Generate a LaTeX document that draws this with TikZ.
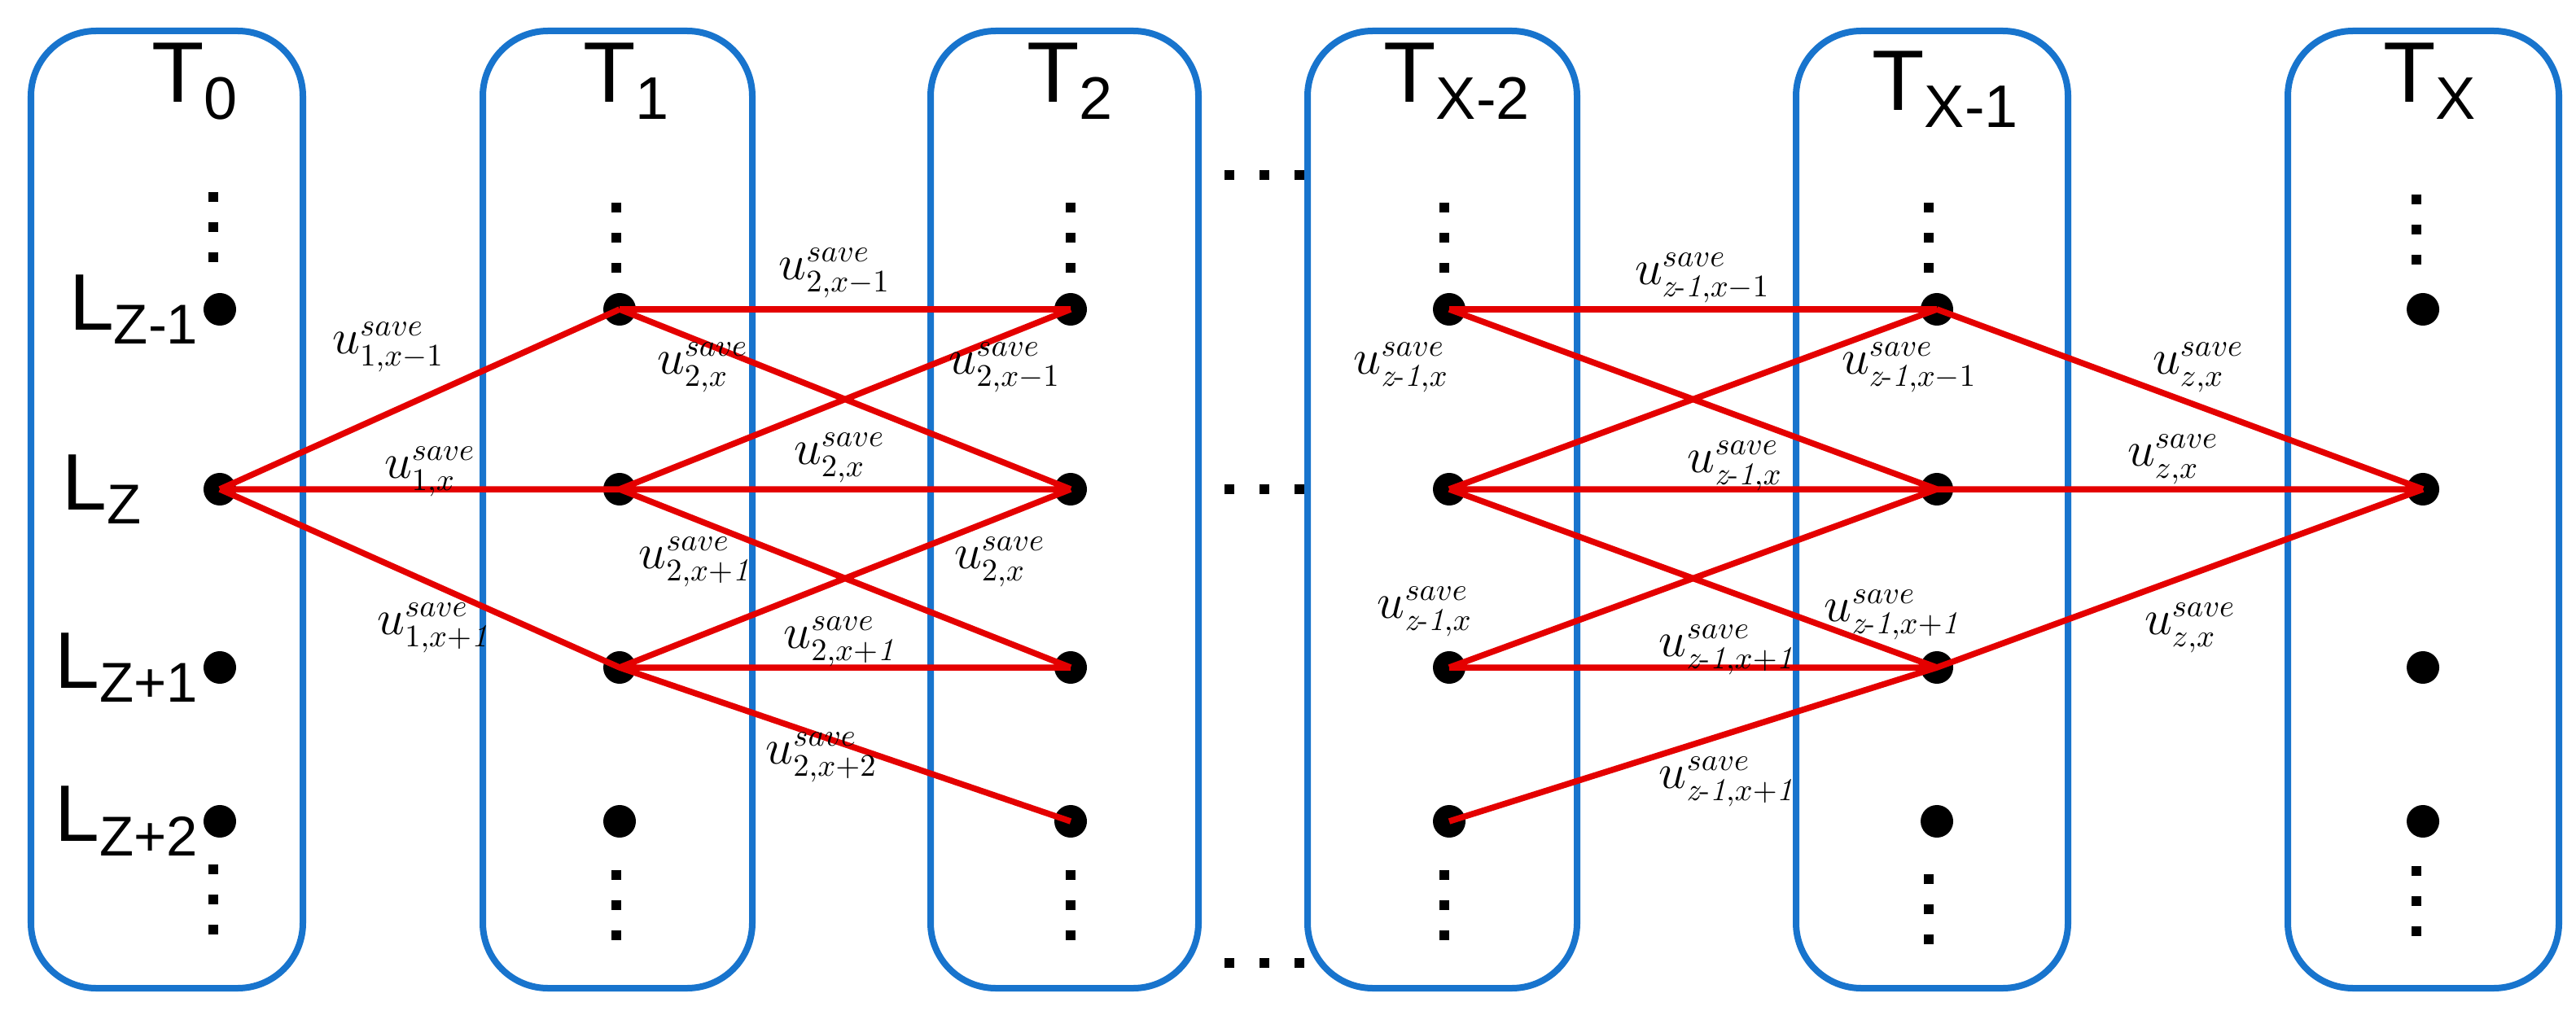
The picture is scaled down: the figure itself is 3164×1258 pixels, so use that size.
\documentclass[tikz,border=0pt]{standalone}
\usepackage{amsmath}
\usepackage{fontspec}
\setsansfont{Liberation Sans}
\begin{document}
\begin{tikzpicture}[x=0.01cm, y=-0.01cm,
    box/.style = {draw = boxblue, line width = 0.08cm, rounded corners = 0.8cm},
    pt/.style = {circle, fill, inner sep = 0pt, minimum size = 0.4cm},
    sq/.style = {fill, inner sep = 0pt, minimum size = 0.12cm},
    edge/.style = {draw = edgered, line width = 0.075cm},
    ttl/.style = {font = \sffamily\fontsize{30}{32}\selectfont},
    lvl/.style = {font = \sffamily\fontsize{28}{30}\selectfont, anchor = east, inner sep = 1pt},
    lab/.style = {font = \fontsize{16}{18}\selectfont}]
  \definecolor{boxblue}{RGB}{24,116,205}
  \definecolor{edgered}{RGB}{228,0,0}
  \useasboundingbox (0,0) rectangle (3164,1258);

  % columns
  \foreach \n/\l/\r in {c0/38/372, c1/593/924, c2/1143/1472,
                        c3/1606/1937, c4/2206/2540, c5/2810/3143}
    \draw [box] (\l,38) rectangle (\r,1214);

  \node [ttl] (t0) at (240,100) {T\textsubscript{0}};
  \node [ttl] (t1) at (770,100) {T\textsubscript{1}};
  \node [ttl] (t2) at (1315,100) {T\textsubscript{2}};
  \node [ttl] (t3) at (1790,100) {T\textsubscript{X-2}};
  \node [ttl] (t4) at (2390,110) {T\textsubscript{X-1}};
  \node [ttl] (t5) at (2985,100) {T\textsubscript{X}};

  % points
  \foreach \c/\x in {0/270, 1/761, 2/1315, 3/1780, 4/2379, 5/2976}
    \foreach \r/\y in {1/380, 2/601, 3/820, 4/1009}
      \node [pt] (p\c\r) at (\x,\y) {};

  \node [lvl] (l1) at (p01.west) {L\textsubscript{Z-1}};
  \node [lvl, xshift = -0.7cm] (l2) at (p02.west) {L\textsubscript{Z}};
  \node [lvl] (l3) at (p03.west) {L\textsubscript{Z+1}};
  \node [lvl] (l4) at (p04.west) {L\textsubscript{Z+2}};

  % vertical ellipses
  \foreach \x/\t/\b in {262/242/1068, 757/255/1075, 1315/255/1075,
                        1774/255/1075, 2369/255/1080, 2968/245/1070}
    \foreach \d in {0,37,74} {
      \node [sq] at (\x,\t+\d) {};
      \node [sq] at (\x,\b+\d) {};
    }

  % horizontal ellipses
  \foreach \y in {215, 601, 1183}
    \foreach \x in {1510,1553,1596}
      \node [sq] at (\x,\y) {};

  % edges
  \draw [edge] (p02.center) -- (p11.center)
               (p02.center) -- (p12.center)
               (p02.center) -- (p13.center)
               (p11.center) -- (p21.center)
               (p11.center) -- (p22.center)
               (p12.center) -- (p21.center)
               (p12.center) -- (p22.center)
               (p12.center) -- (p23.center)
               (p13.center) -- (p22.center)
               (p13.center) -- (p23.center)
               (p13.center) -- (p24.center)
               (p31.center) -- (p41.center)
               (p31.center) -- (p42.center)
               (p32.center) -- (p41.center)
               (p32.center) -- (p42.center)
               (p32.center) -- (p43.center)
               (p33.center) -- (p42.center)
               (p33.center) -- (p43.center)
               (p34.center) -- (p43.center)
               (p41.center) -- (p52.center)
               (p42.center) -- (p52.center)
               (p43.center) -- (p52.center);

  % edge labels
  \node [lab] (a1) at (477,426) {$u^{save}_{1,x-1}$};
  \node [lab] (a2) at (528,579) {$u^{save}_{1,x}$};
  \node [lab] (a3) at (532,771) {$u^{save}_{1,x+\mathit{1}}$};
  \node [lab] (b1) at (1025,335) {$u^{save}_{2,x-1}$};
  \node [lab] (b2) at (863,451) {$u^{save}_{2,x}$};
  \node [lab] (b3) at (1234,451) {$u^{save}_{2,x-1}$};
  \node [lab] (b4) at (1031,562) {$u^{save}_{2,x}$};
  \node [lab] (b5) at (853,690) {$u^{save}_{2,x+\mathit{1}}$};
  \node [lab] (b6) at (1228,690) {$u^{save}_{2,x}$};
  \node [lab] (b7) at (1031,788) {$u^{save}_{2,x+\mathit{1}}$};
  \node [lab] (b8) at (1009,930) {$u^{save}_{2,x+2}$};
  \node [lab] (c1) at (2091,341) {$u^{save}_{\mathit{z}\text{-}\mathit{1},x-1}$};
  \node [lab] (c2) at (1721,451) {$u^{save}_{\mathit{z}\text{-}\mathit{1},x}$};
  \node [lab] (c3) at (2345,451) {$u^{save}_{\mathit{z}\text{-}\mathit{1},x-1}$};
  \node [lab] (c4) at (2131,572) {$u^{save}_{\mathit{z}\text{-}\mathit{1},x}$};
  \node [lab] (c5) at (1750,751) {$u^{save}_{\mathit{z}\text{-}\mathit{1},x}$};
  \node [lab] (c6) at (2121,798) {$u^{save}_{\mathit{z}\text{-}\mathit{1},x+\mathit{1}}$};
  \node [lab] (c7) at (2324,755) {$u^{save}_{\mathit{z}\text{-}\mathit{1},x+\mathit{1}}$};
  \node [lab] (c8) at (2121,960) {$u^{save}_{\mathit{z}\text{-}\mathit{1},x+\mathit{1}}$};
  \node [lab] (d1) at (2700,451) {$u^{save}_{z,x}$};
  \node [lab] (d2) at (2669,564) {$u^{save}_{z,x}$};
  \node [lab] (d3) at (2690,771) {$u^{save}_{z,x}$};
\end{tikzpicture}
\end{document}
